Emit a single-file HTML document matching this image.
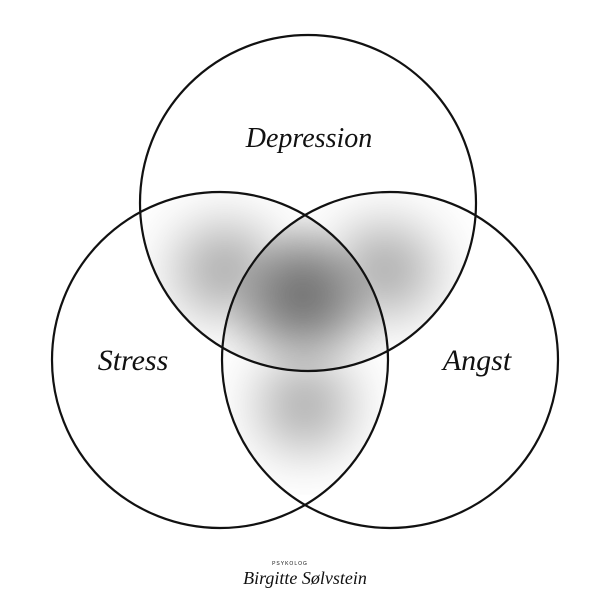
<!DOCTYPE html>
<html><head><style>
html,body{margin:0;padding:0;background:#fff;width:610px;height:610px;overflow:hidden}
svg{display:block}
</style></head><body>
<svg width="610" height="610" viewBox="0 0 610 610" xmlns="http://www.w3.org/2000/svg">
<defs>
<clipPath id="cT"><circle cx="308" cy="203" r="168"/></clipPath>
<clipPath id="cL"><circle cx="220" cy="360" r="168"/></clipPath>
<clipPath id="cR"><circle cx="390" cy="360" r="168"/></clipPath>
<filter id="b" x="-50%" y="-50%" width="200%" height="200%"><feGaussianBlur stdDeviation="28"/></filter>
</defs>
<rect width="610" height="610" fill="#fff"/>
<g clip-path="url(#cT)"><g clip-path="url(#cL)"><g filter="url(#b)"><ellipse cx="225" cy="270" rx="50" ry="45" fill="#a8a8a8"/></g></g></g>
<g clip-path="url(#cT)"><g clip-path="url(#cR)"><g filter="url(#b)"><ellipse cx="385" cy="270" rx="50" ry="45" fill="#a8a8a8"/></g></g></g>
<g clip-path="url(#cL)"><g clip-path="url(#cR)"><g filter="url(#b)"><ellipse cx="305" cy="405" rx="45" ry="45" fill="#a8a8a8"/></g></g></g>
<g clip-path="url(#cL)"><g clip-path="url(#cR)"><g clip-path="url(#cT)"><g filter="url(#b)"><ellipse cx="303" cy="295" rx="60" ry="55" fill="#707070"/></g></g></g></g>
<g fill="none" stroke="#111" stroke-width="2.2">
<circle cx="308" cy="203" r="168"/>
<circle cx="220" cy="360" r="168"/>
<circle cx="390" cy="360" r="168"/>
</g>
<g font-family="'Liberation Serif',serif" font-style="italic" fill="#111" text-anchor="middle">
<text x="309" y="147" font-size="28">Depression</text>
<text x="133" y="370" font-size="30">Stress</text>
<text x="477" y="370" font-size="30">Angst</text>
<text x="305" y="584" font-size="18">Birgitte Sølvstein</text>
<text x="290" y="565" font-size="5" font-style="normal" font-family="'Liberation Sans',sans-serif" letter-spacing="1">PSYKOLOG</text>
</g>
</svg>
</body></html>
